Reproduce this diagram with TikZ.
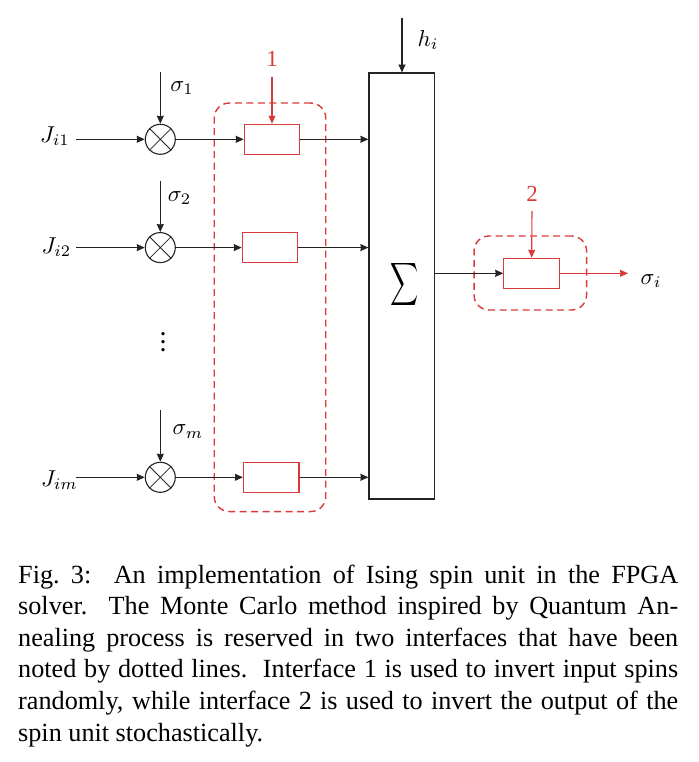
\documentclass[tikz,border=0pt]{standalone}
\usepackage{fontspec}
\setmainfont{Liberation Serif}
\usetikzlibrary{arrows.meta}
\definecolor{spinred}{RGB}{219,58,58}
\definecolor{wireblack}{RGB}{35,35,35}
\tikzset{
  wire/.style={draw=wireblack, line width=1.1pt, -{Stealth[length=8pt,width=7pt,inset=0.5pt]}},
  redwire/.style={draw=spinred, line width=1.1pt, -{Stealth[length=8pt,width=7pt,inset=0.5pt]}},
  mixer/.style={circle, draw=wireblack, line width=1.1pt, minimum size=30pt, inner sep=0pt},
  slot/.style={rectangle, draw=spinred, line width=1.1pt, minimum width=55.5pt, minimum height=30pt, inner sep=0pt},
  region/.style={rectangle, draw=spinred, line width=1.4pt, dash pattern=on 7pt off 4.5pt, rounded corners=15pt, inner sep=0pt},
  symbol/.style={scale=2.3, inner sep=0pt},
}
\begin{document}
\begin{tikzpicture}[x=1pt, y=-1pt]
  \useasboundingbox (0,0) rectangle (698,762);

  % dashed interfaces
  \node[region, minimum width=111.5pt, minimum height=408.5pt] (regionA) at (270,307.3) {};
  \node[region, minimum width=112.5pt, minimum height=74pt] (regionB) at (530.3,273) {};

  % adder
  \node[rectangle, draw=wireblack, line width=1.1pt, minimum width=65.5pt, minimum height=426pt, inner sep=0pt] (sumbox) at (401.7,286) {};
  \node[xscale=1.95, yscale=3, inner sep=0pt] (sumsign) at (404.5,284) {$\displaystyle\sum$};
  \coordinate (htop) at (402,18);
  \draw[wire] (htop) -- (htop |- sumbox.north);
  \node[symbol] (hlabel) at (428,40) {$h_i$};

  % input rows
  \foreach \name/\ypos/\slotx/\topy/\jx/\jy/\jtext/\sx/\sy/\stext in {
    one/139.3/272/72/55/136/{J_{i1}}/182/88/{\sigma_1},
    two/247.6/270/180.7/56.5/247/{J_{i2}}/179.5/198/{\sigma_2},
    em/477.3/271.2/410/59.5/480/{J_{im}}/188/431.7/{\sigma_m}} {
    \node[mixer] (mix\name) at (160.3,\ypos) {};
    \draw[wireblack, line width=0.8pt] (mix\name.45) -- (mix\name.225) (mix\name.135) -- (mix\name.315);
    \node[slot] (slot\name) at (\slotx,\ypos) {};
    \node[symbol] (jlabel\name) at (\jx,\jy) {$\jtext$};
    \node[symbol] (slabel\name) at (\sx,\sy) {$\stext$};
    \coordinate (in\name) at (76,\ypos);
    \coordinate (top\name) at (160.3,\topy);
    \draw[wire] (in\name) -- (mix\name);
    \draw[wire] (top\name) -- (mix\name);
    \draw[wire] (mix\name) -- (slot\name);
    \draw[wire] (slot\name) -- (sumbox.west |- slot\name);
  }
  \node[scale=2, inner sep=0pt, font=\bfseries] (vdots) at (163,336) {\vdots};

  % interface 1
  \node[symbol, text=spinred] (tagA) at (272,59) {1};
  \coordinate (tagAend) at (272,77);
  \draw[redwire] (tagAend) -- (slotone);

  % output
  \node[slot] (slotout) at (531.5,273.3) {};
  \node[symbol, text=spinred] (tagB) at (532,194) {2};
  \coordinate (tagBend) at (532,211);
  \draw[redwire] (tagBend) -- (slotout);
  \draw[wire] (sumbox.east |- slotout) -- (slotout);
  \coordinate (outend) at (628,273.3);
  \draw[redwire] (slotout) -- (outend);
  \node[symbol] (outlabel) at (651,281) {$\sigma_i$};

  % caption
  \node[anchor=north west, inner sep=0pt, text width=660pt, align=justify,
        font=\fontsize{26.2}{31.6}\selectfont] (caption) at (18,564.5) {%
    Fig.~3:\ \ An implementation of Ising spin unit in the FPGA\linebreak
    solver.\ \ The Monte Carlo method inspired by Quantum An-\linebreak
    nealing process is reserved in two interfaces that have been\linebreak
    noted by dotted lines.\ \ Interface 1 is used to invert input spins\linebreak
    randomly, while interface 2 is used to invert the output of the\linebreak
    spin unit stochastically.};
\end{tikzpicture}
\end{document}
